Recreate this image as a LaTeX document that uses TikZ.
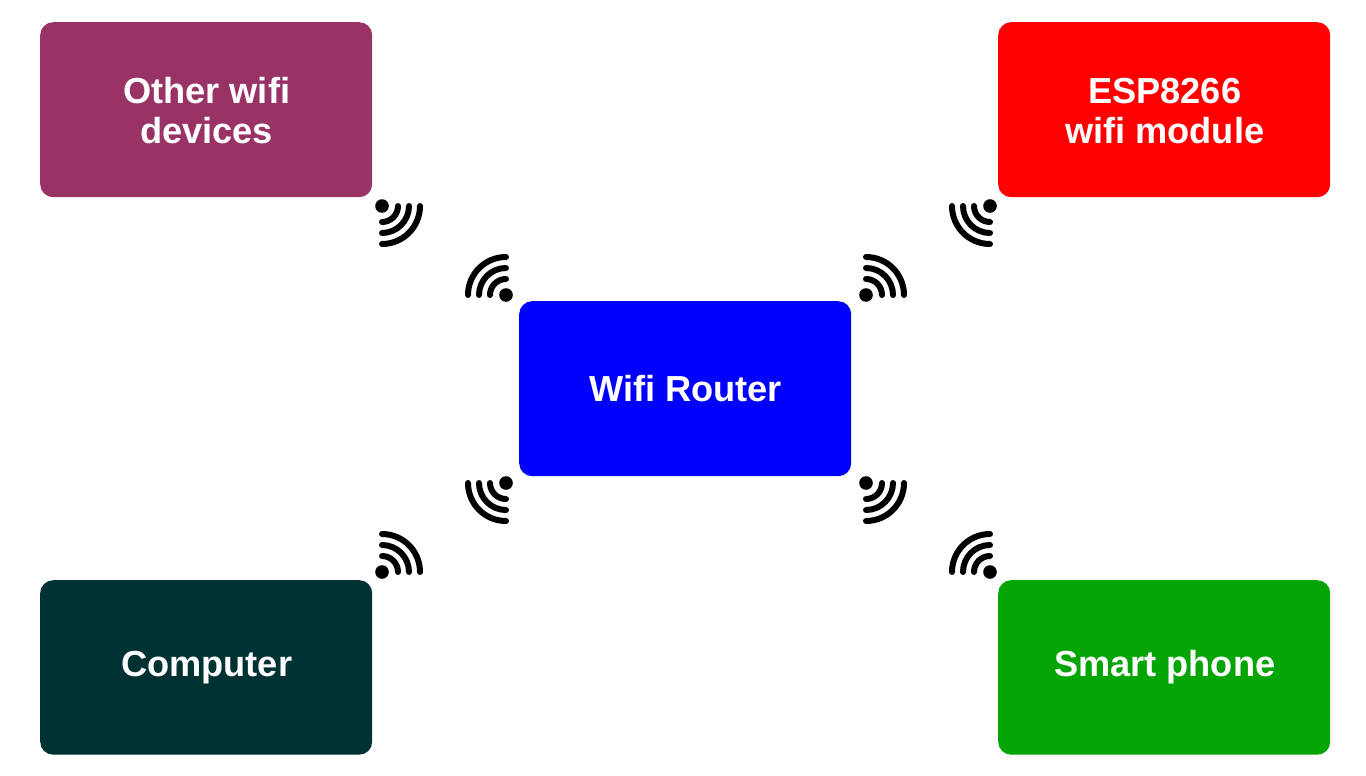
\documentclass[tikz,border=0pt]{standalone}
\usepackage{fontspec}
\setmainfont{Liberation Sans}
\definecolor{plumbox}{HTML}{993366}
\definecolor{redbox}{HTML}{FF0000}
\definecolor{bluebox}{HTML}{0000FF}
\definecolor{darkbox}{HTML}{013233}
\definecolor{greenbox}{HTML}{05A505}
\newcommand{\padtext}{\hspace*{1pt}}
\newcommand{\padtop}{\rule{0pt}{28.5pt}}
\tikzset{
  x=1pt,y=-1pt,
  devbox/.style={draw=none,rounded corners=13pt,minimum width=332pt,minimum height=175pt,inner sep=0pt,
    text=white,align=center,font=\fontsize{36.2}{40}\selectfont\bfseries},
  lowbox/.style={devbox,minimum height=174.5pt},
  wave/.style={line width=6pt,line cap=round,black},
  wifi/.pic={
    \fill[black] (0,0) circle[radius=6.8];
    \draw[wave] (16,0) arc[start angle=0,end angle=-90,radius=16];
    \draw[wave] (27,0) arc[start angle=0,end angle=-90,radius=27];
    \draw[wave] (38,0) arc[start angle=0,end angle=-90,radius=38];
  }
}
\begin{document}
\begin{tikzpicture}[x=1pt,y=-1pt]
\useasboundingbox (0,0) rectangle (1366,776);
\node[devbox,fill=plumbox,anchor=north west] (other) at (40,22) {\padtop\padtext Other wifi\\\padtext devices};
\node[devbox,fill=redbox,anchor=north west] (esp) at (998,22) {\padtop\padtext ESP8266\\\padtext wifi module};
\node[devbox,fill=bluebox,anchor=north west] (router) at (519,301) {\padtext Wifi Router};
\node[lowbox,fill=darkbox,anchor=north west] (computer) at (40,580) {\padtext Computer};
\node[lowbox,fill=greenbox,anchor=north west] (phone) at (998,580) {\padtext Smart phone};
\pic[yscale=-1] at (382,206) {wifi};
\pic[xscale=-1,yscale=-1] at (990,206) {wifi};
\pic[xscale=-1] at (506,295) {wifi};
\pic at (866,295) {wifi};
\pic[xscale=-1,yscale=-1] at (506,483) {wifi};
\pic[yscale=-1] at (866,483) {wifi};
\pic at (382,572) {wifi};
\pic[xscale=-1] at (990,572) {wifi};
\end{tikzpicture}
\end{document}
